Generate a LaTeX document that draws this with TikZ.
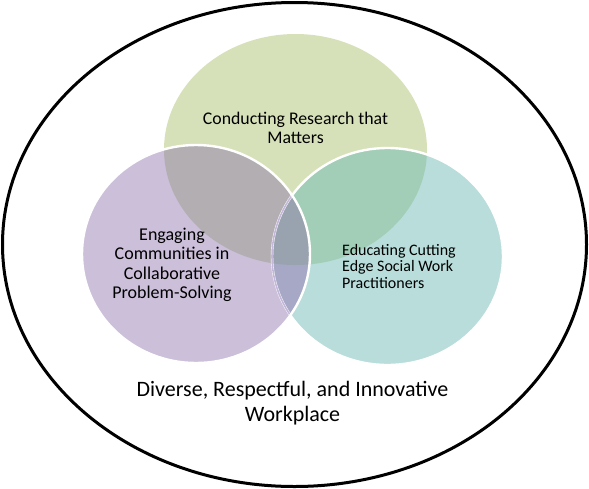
\documentclass[tikz,border=0pt]{standalone}
\usepackage{fontspec}
\setmainfont{Carlito}
\definecolor{cG}{RGB}{215,225,185}
\definecolor{cP}{RGB}{203,191,217}
\definecolor{cT}{RGB}{184,221,218}
\definecolor{cGP}{RGB}{179,174,178}
\definecolor{cGT}{RGB}{162,205,182}
\definecolor{cPT}{RGB}{166,168,197}
\definecolor{cGPT}{RGB}{153,163,175}
\definecolor{cEdge}{RGB}{196,184,216}
\tikzset{
  venline/.style={white, line width=2.4pt},
  label/.style={inner sep=0pt, align=center, text=black},
}
\def\venG{(295.5,149.5) ellipse [x radius=131.5pt, y radius=115.5pt]}
\def\venP{(196,254) ellipse [x radius=114pt, y radius=109pt]}
\def\venT{(387.5,256.5) ellipse [x radius=115.5pt, y radius=108.5pt]}
\begin{document}
\begin{tikzpicture}[x=1pt,y=-1pt]
\useasboundingbox (0,0) rectangle (589,488);
% outer workplace ellipse
\draw[black, line width=3pt] (294.5,244.5) ellipse [x radius=292pt, y radius=242pt];
% base fills
\fill[cG] \venG;
\fill[cP] \venP;
\fill[cT] \venT;
% pairwise overlaps
\begin{scope}
  \clip \venG;
  \fill[cGP] \venP;
  \fill[cGT] \venT;
\end{scope}
\begin{scope}
  \clip \venP;
  \fill[cPT] \venT;
\end{scope}
\begin{scope}
  \clip \venG;
  \clip \venP;
  \fill[cGPT] \venT;
\end{scope}
% outlines
\draw[venline] \venT;
\begin{scope}
  \clip \venP;
  \draw[cEdge, line width=1.6pt] \venT;
\end{scope}
\draw[venline] \venP;
% labels
\node[label, font=\fontsize{17.8}{19}\selectfont] (research) at (295.5,128)
  {Conducting Research that\\Matters};
\node[label, font=\fontsize{18}{19.5}\selectfont] (community) at (172,265)
  {Engaging\\Communities in\\Collaborative\\Problem-Solving};
\node[label, align=left, anchor=west, font=\fontsize{16}{16.5}\selectfont] (educating) at (342,266)
  {Educating Cutting\\Edge Social Work\\Practitioners};
\node[label, font=\fontsize{22}{25}\selectfont] (workplace) at (292.5,403)
  {Diverse, Respectful, and Innovative\\Workplace};
\end{tikzpicture}
\end{document}
